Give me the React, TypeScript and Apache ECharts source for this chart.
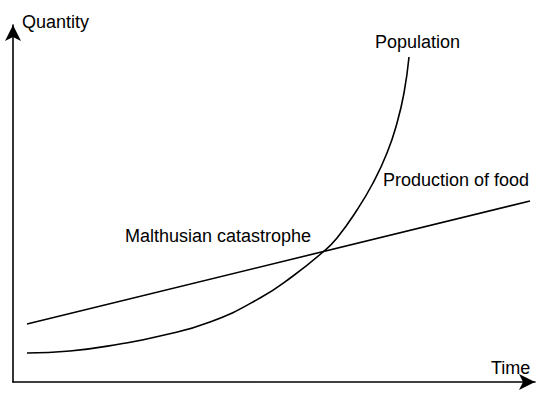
import React, { useEffect, useRef } from "react";
import * as echarts from "echarts";

// Values (arbitrary units: time on x, quantity on y)
const populationX = [14, 57, 107, 147, 197, 247, 280, 310, 324, 344, 360, 374, 384, 391, 396];
const populationY = [29, 31, 38, 46, 60, 84, 106, 130, 144, 172, 199, 229, 259, 289, 325];
const foodX = [14, 517];
const foodY = [58, 181];
const labels = ["Quantity", "Time", "Population", "Production of food", "Malthusian catastrophe"];

export default function App() {
  const ref = useRef<HTMLDivElement>(null);
  useEffect(() => {
    if (!ref.current) return;
    const chart = echarts.init(ref.current, null, { renderer: "svg" });
    const font = "Liberation Sans, Arial, sans-serif";
    const textStyle = (t: string) => ({ text: t, fill: "#000", font: `18px ${font}`, verticalAlign: "middle" as const });
    chart.setOption({
      animation: false,
      backgroundColor: "#fff",
      grid: { left: 13, right: 25, top: 25, bottom: 15, containLabel: false },
      xAxis: {
        type: "value",
        min: 0,
        max: 522,
        axisLine: { show: true, lineStyle: { color: "#000", width: 1.6 }, symbol: ["none", "arrow"], symbolSize: [12, 16] },
        axisTick: { show: false },
        axisLabel: { show: false },
        splitLine: { show: false },
      },
      yAxis: {
        type: "value",
        min: 0,
        max: 357,
        axisLine: { show: true, lineStyle: { color: "#000", width: 1.6 }, symbol: ["none", "arrow"], symbolSize: [12, 16] },
        axisTick: { show: false },
        axisLabel: { show: false },
        splitLine: { show: false },
      },
      series: [
        {
          type: "line",
          name: "Population",
          data: populationX.map((x, i) => [x, populationY[i]]),
          smooth: 0.5,
          showSymbol: false,
          lineStyle: { color: "#000", width: 1.6 },
        },
        {
          type: "line",
          name: "Production of food",
          data: foodX.map((x, i) => [x, foodY[i]]),
          showSymbol: false,
          lineStyle: { color: "#000", width: 1.6 },
        },
      ],
      graphic: [
        { type: "text", x: 22, y: 22, style: textStyle(labels[0]) },
        { type: "text", x: 491, y: 368, style: textStyle(labels[1]) },
        { type: "text", x: 375, y: 42, style: textStyle(labels[2]) },
        { type: "text", x: 383, y: 180, style: textStyle(labels[3]) },
        { type: "text", x: 125, y: 236, style: textStyle(labels[4]) },
      ],
    });
    return () => chart.dispose();
  }, []);
  return <div ref={ref} style={{ width: 560, height: 397, position: "absolute", left: 0, top: 0 }} />;
}
